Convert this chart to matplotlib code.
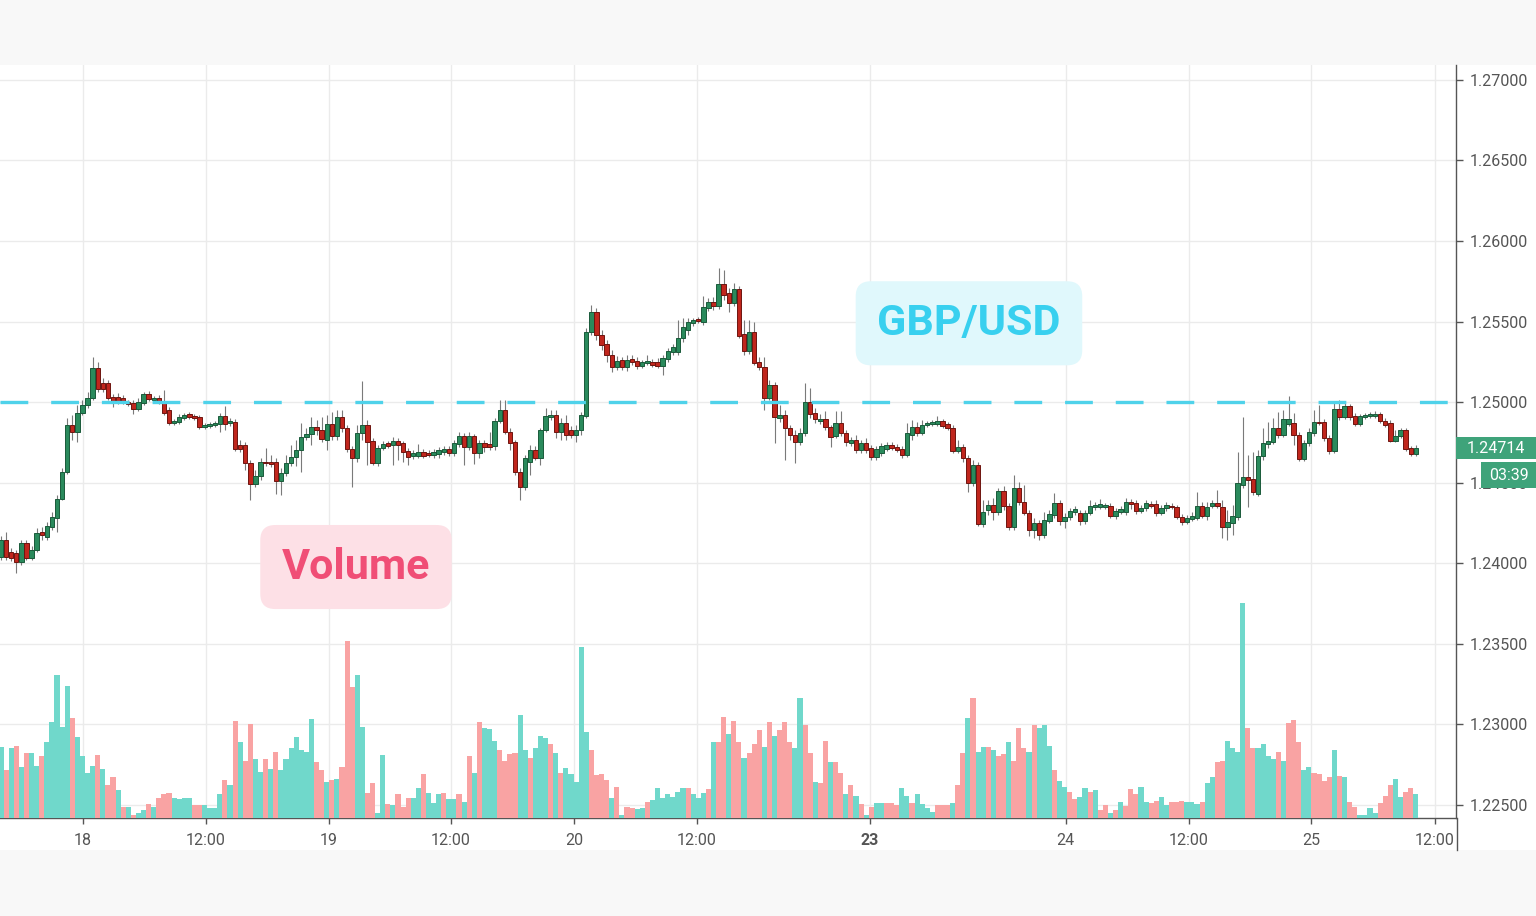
import numpy as np
import matplotlib.pyplot as plt
from matplotlib.patches import Rectangle
from matplotlib.lines import Line2D
from matplotlib.transforms import IdentityTransform

# 30-minute GBP/USD candles
opens = [
    1.24037, 1.24143, 1.24069, 1.24062, 1.24006, 1.24124, 1.24031, 1.24081, 1.24193, 1.24162,
    1.24224, 1.24280, 1.24398, 1.24565, 1.24857, 1.24814, 1.24932, 1.24981, 1.25025, 1.25211,
    1.25118, 1.25118, 1.25031, 1.25031, 1.25025, 1.25000, 1.24994, 1.24957, 1.24994, 1.25050,
    1.25012, 1.25025, 1.25000, 1.24950, 1.24870, 1.24876, 1.24901, 1.24925, 1.24913, 1.24907,
    1.24845, 1.24851, 1.24857, 1.24863, 1.24913, 1.24870, 1.24876, 1.24733, 1.24733, 1.24621,
    1.24491, 1.24540, 1.24627, 1.24627, 1.24627, 1.24509, 1.24559, 1.24621, 1.24658, 1.24702,
    1.24783, 1.24801, 1.24845, 1.24826, 1.24764, 1.24863, 1.24789, 1.24907, 1.24839, 1.24708,
    1.24652, 1.24807, 1.24857, 1.24758, 1.24621, 1.24714, 1.24745, 1.24733, 1.24758, 1.24745,
    1.24696, 1.24665, 1.24665, 1.24690, 1.24683, 1.24671, 1.24677, 1.24690, 1.24708, 1.24683,
    1.24739, 1.24789, 1.24721, 1.24789, 1.24683, 1.24745, 1.24739, 1.24727, 1.24882, 1.24950,
    1.24814, 1.24752, 1.24565, 1.24472, 1.24627, 1.24702, 1.24652, 1.24826, 1.24907, 1.24919,
    1.24814, 1.24870, 1.24826, 1.24795, 1.24826, 1.24913, 1.25435, 1.25559, 1.25416, 1.25360,
    1.25292, 1.25217, 1.25261, 1.25217, 1.25267, 1.25255, 1.25224, 1.25242, 1.25248, 1.25248,
    1.25224, 1.25267, 1.25311, 1.25311, 1.25397, 1.25447, 1.25491, 1.25515, 1.25497, 1.25584,
    1.25621, 1.25596, 1.25733, 1.25677, 1.25615, 1.25702, 1.25422, 1.25317, 1.25435, 1.25248,
    1.25217, 1.25025, 1.25106, 1.24901, 1.24919, 1.24839, 1.24795, 1.24752, 1.24807, 1.25000,
    1.24932, 1.24882, 1.24894, 1.24845, 1.24789, 1.24870, 1.24807, 1.24745, 1.24764, 1.24702,
    1.24745, 1.24714, 1.24658, 1.24683, 1.24708, 1.24733, 1.24721, 1.24708, 1.24671, 1.24795,
    1.24845, 1.24807, 1.24857, 1.24863, 1.24863, 1.24882, 1.24863, 1.24839, 1.24696, 1.24721,
    1.24652, 1.24497, 1.24609, 1.24242, 1.24329, 1.24360, 1.24317, 1.24447, 1.24354, 1.24224,
    1.24466, 1.24379, 1.24311, 1.24205, 1.24249, 1.24174, 1.24261, 1.24298, 1.24373, 1.24261,
    1.24286, 1.24317, 1.24311, 1.24261, 1.24311, 1.24348, 1.24348, 1.24348, 1.24354, 1.24292,
    1.24317, 1.24317, 1.24379, 1.24373, 1.24323, 1.24342, 1.24367, 1.24367, 1.24311, 1.24342,
    1.24354, 1.24348, 1.24286, 1.24255, 1.24274, 1.24280, 1.24354, 1.24292, 1.24354, 1.24373,
    1.24348, 1.24224, 1.24249, 1.24286, 1.24485, 1.24534, 1.24522, 1.24429, 1.24665, 1.24739,
    1.24752, 1.24839, 1.24795, 1.24863, 1.24870, 1.24795, 1.24646, 1.24745, 1.24807, 1.24876,
    1.24876, 1.24776, 1.24696, 1.24957, 1.24907, 1.24975, 1.24913, 1.24863, 1.24907, 1.24913,
    1.24913, 1.24925, 1.24882, 1.24870, 1.24758, 1.24789, 1.24826, 1.24714, 1.24677,
]
highs = [
    1.24168, 1.24193, 1.24093, 1.24081, 1.24143, 1.24143, 1.24106, 1.24218, 1.24224, 1.24255,
    1.24317, 1.24422, 1.24590, 1.24901, 1.24919, 1.24981, 1.25012, 1.25062, 1.25279, 1.25248,
    1.25149, 1.25137, 1.25050, 1.25056, 1.25043, 1.25012, 1.25012, 1.25025, 1.25062, 1.25068,
    1.25037, 1.25043, 1.25075, 1.24969, 1.24894, 1.24925, 1.24932, 1.24938, 1.24925, 1.24919,
    1.24870, 1.24876, 1.24882, 1.24932, 1.24975, 1.24901, 1.24894, 1.24764, 1.24752, 1.24640,
    1.24578, 1.24652, 1.24714, 1.24671, 1.24652, 1.24590, 1.24671, 1.24733, 1.24764, 1.24870,
    1.24839, 1.24907, 1.24888, 1.24907, 1.24919, 1.24938, 1.24950, 1.24950, 1.24857, 1.24727,
    1.24857, 1.25130, 1.24888, 1.24776, 1.24733, 1.24758, 1.24758, 1.24783, 1.24776, 1.24758,
    1.24714, 1.24702, 1.24739, 1.24708, 1.24702, 1.24708, 1.24721, 1.24727, 1.24727, 1.24764,
    1.24814, 1.24807, 1.24814, 1.24801, 1.24764, 1.24764, 1.24814, 1.24901, 1.25012, 1.25012,
    1.24839, 1.24764, 1.24590, 1.24671, 1.24733, 1.24727, 1.24839, 1.24963, 1.24950, 1.24950,
    1.24901, 1.24919, 1.24851, 1.24857, 1.24938, 1.25460, 1.25602, 1.25584, 1.25447, 1.25385,
    1.25323, 1.25286, 1.25279, 1.25292, 1.25292, 1.25279, 1.25261, 1.25292, 1.25267, 1.25273,
    1.25292, 1.25335, 1.25360, 1.25509, 1.25522, 1.25522, 1.25522, 1.25528, 1.25658, 1.25646,
    1.25652, 1.25832, 1.25820, 1.25708, 1.25739, 1.25720, 1.25509, 1.25509, 1.25497, 1.25279,
    1.25279, 1.25137, 1.25124, 1.24981, 1.24950, 1.24857, 1.24826, 1.24839, 1.25118, 1.25087,
    1.24963, 1.24925, 1.24944, 1.24857, 1.24944, 1.24944, 1.24826, 1.24783, 1.24795, 1.24764,
    1.24776, 1.24733, 1.24727, 1.24745, 1.24752, 1.24752, 1.24739, 1.24727, 1.24870, 1.24888,
    1.24876, 1.24888, 1.24882, 1.24888, 1.24913, 1.24894, 1.24876, 1.24857, 1.24764, 1.24739,
    1.24671, 1.24640, 1.24627, 1.24391, 1.24391, 1.24404, 1.24466, 1.24478, 1.24373, 1.24547,
    1.24503, 1.24485, 1.24329, 1.24280, 1.24267, 1.24317, 1.24329, 1.24435, 1.24391, 1.24311,
    1.24342, 1.24354, 1.24329, 1.24329, 1.24391, 1.24379, 1.24398, 1.24373, 1.24373, 1.24342,
    1.24354, 1.24404, 1.24398, 1.24391, 1.24360, 1.24391, 1.24385, 1.24391, 1.24360, 1.24379,
    1.24373, 1.24360, 1.24305, 1.24298, 1.24317, 1.24441, 1.24379, 1.24379, 1.24391, 1.24454,
    1.24391, 1.24329, 1.24360, 1.24690, 1.24907, 1.24671, 1.24690, 1.24702, 1.24839, 1.24876,
    1.24901, 1.24938, 1.24950, 1.25037, 1.24932, 1.24814, 1.24764, 1.24839, 1.24950, 1.24981,
    1.24894, 1.24795, 1.25000, 1.25012, 1.24994, 1.24988, 1.24932, 1.24925, 1.24932, 1.24938,
    1.24944, 1.24938, 1.24901, 1.24888, 1.24826, 1.24839, 1.24839, 1.24727, 1.24733,
]
lows = [
    1.24019, 1.24019, 1.24013, 1.23938, 1.23988, 1.24019, 1.24019, 1.24069, 1.24143, 1.24143,
    1.24205, 1.24193, 1.24391, 1.24553, 1.24764, 1.24752, 1.24919, 1.24963, 1.25012, 1.25062,
    1.25062, 1.25012, 1.24969, 1.24988, 1.24988, 1.24975, 1.24925, 1.24944, 1.24981, 1.25006,
    1.25000, 1.24988, 1.24919, 1.24857, 1.24857, 1.24863, 1.24888, 1.24894, 1.24888, 1.24832,
    1.24832, 1.24839, 1.24845, 1.24814, 1.24826, 1.24851, 1.24696, 1.24690, 1.24578, 1.24391,
    1.24472, 1.24516, 1.24603, 1.24596, 1.24429, 1.24422, 1.24540, 1.24603, 1.24603, 1.24565,
    1.24764, 1.24733, 1.24795, 1.24752, 1.24702, 1.24764, 1.24764, 1.24814, 1.24690, 1.24472,
    1.24627, 1.24764, 1.24609, 1.24609, 1.24603, 1.24702, 1.24714, 1.24609, 1.24640, 1.24627,
    1.24609, 1.24646, 1.24652, 1.24652, 1.24658, 1.24652, 1.24652, 1.24671, 1.24665, 1.24665,
    1.24721, 1.24609, 1.24702, 1.24615, 1.24652, 1.24690, 1.24702, 1.24702, 1.24870, 1.24801,
    1.24702, 1.24547, 1.24391, 1.24454, 1.24547, 1.24640, 1.24609, 1.24814, 1.24888, 1.24776,
    1.24764, 1.24764, 1.24776, 1.24752, 1.24795, 1.24901, 1.25416, 1.25385, 1.25323, 1.25248,
    1.25186, 1.25199, 1.25199, 1.25193, 1.25230, 1.25205, 1.25211, 1.25230, 1.25217, 1.25211,
    1.25168, 1.25248, 1.25292, 1.25292, 1.25373, 1.25416, 1.25472, 1.25491, 1.25478, 1.25565,
    1.25571, 1.25578, 1.25633, 1.25559, 1.25596, 1.25397, 1.25292, 1.25298, 1.25230, 1.25199,
    1.24950, 1.25012, 1.24745, 1.24876, 1.24640, 1.24764, 1.24621, 1.24733, 1.24789, 1.24901,
    1.24870, 1.24863, 1.24826, 1.24721, 1.24776, 1.24789, 1.24727, 1.24727, 1.24683, 1.24683,
    1.24683, 1.24640, 1.24640, 1.24665, 1.24696, 1.24702, 1.24690, 1.24652, 1.24658, 1.24764,
    1.24789, 1.24795, 1.24845, 1.24851, 1.24851, 1.24839, 1.24826, 1.24683, 1.24683, 1.24627,
    1.24441, 1.24478, 1.24230, 1.24224, 1.24298, 1.24267, 1.24298, 1.24329, 1.24205, 1.24205,
    1.24360, 1.24298, 1.24168, 1.24155, 1.24143, 1.24155, 1.24249, 1.24280, 1.24236, 1.24218,
    1.24267, 1.24298, 1.24236, 1.24242, 1.24298, 1.24329, 1.24336, 1.24336, 1.24280, 1.24274,
    1.24305, 1.24298, 1.24336, 1.24305, 1.24311, 1.24323, 1.24342, 1.24292, 1.24298, 1.24323,
    1.24336, 1.24274, 1.24236, 1.24242, 1.24261, 1.24267, 1.24280, 1.24267, 1.24342, 1.24342,
    1.24155, 1.24143, 1.24174, 1.24267, 1.24466, 1.24348, 1.24422, 1.24416, 1.24640, 1.24714,
    1.24739, 1.24776, 1.24783, 1.24851, 1.24733, 1.24634, 1.24634, 1.24727, 1.24789, 1.24857,
    1.24758, 1.24677, 1.24683, 1.24888, 1.24894, 1.24888, 1.24851, 1.24851, 1.24894, 1.24901,
    1.24901, 1.24870, 1.24845, 1.24752, 1.24752, 1.24776, 1.24696, 1.24665, 1.24665,
]
closes = [
    1.24143, 1.24037, 1.24031, 1.24006, 1.24124, 1.24031, 1.24081, 1.24187, 1.24174, 1.24230,
    1.24286, 1.24398, 1.24565, 1.24857, 1.24814, 1.24932, 1.24981, 1.25025, 1.25211, 1.25081,
    1.25081, 1.25025, 1.25000, 1.25000, 1.25000, 1.24988, 1.24957, 1.25000, 1.25050, 1.25019,
    1.25025, 1.25000, 1.24932, 1.24870, 1.24882, 1.24907, 1.24919, 1.24907, 1.24901, 1.24845,
    1.24857, 1.24863, 1.24870, 1.24913, 1.24863, 1.24882, 1.24708, 1.24708, 1.24621, 1.24491,
    1.24540, 1.24627, 1.24621, 1.24615, 1.24509, 1.24559, 1.24621, 1.24658, 1.24702, 1.24783,
    1.24801, 1.24845, 1.24826, 1.24770, 1.24863, 1.24789, 1.24907, 1.24839, 1.24708, 1.24652,
    1.24807, 1.24857, 1.24752, 1.24621, 1.24714, 1.24739, 1.24727, 1.24758, 1.24733, 1.24690,
    1.24658, 1.24683, 1.24690, 1.24665, 1.24671, 1.24690, 1.24702, 1.24708, 1.24683, 1.24745,
    1.24789, 1.24721, 1.24789, 1.24683, 1.24745, 1.24721, 1.24721, 1.24882, 1.24950, 1.24814,
    1.24745, 1.24565, 1.24472, 1.24652, 1.24702, 1.24652, 1.24826, 1.24913, 1.24919, 1.24814,
    1.24870, 1.24795, 1.24795, 1.24826, 1.24919, 1.25435, 1.25559, 1.25416, 1.25354, 1.25292,
    1.25217, 1.25255, 1.25217, 1.25261, 1.25248, 1.25224, 1.25248, 1.25255, 1.25230, 1.25224,
    1.25273, 1.25317, 1.25342, 1.25397, 1.25466, 1.25497, 1.25509, 1.25503, 1.25590, 1.25621,
    1.25596, 1.25733, 1.25665, 1.25615, 1.25702, 1.25410, 1.25317, 1.25435, 1.25242, 1.25217,
    1.25025, 1.25106, 1.24907, 1.24919, 1.24839, 1.24795, 1.24752, 1.24807, 1.25000, 1.24925,
    1.24894, 1.24894, 1.24845, 1.24783, 1.24870, 1.24807, 1.24752, 1.24764, 1.24702, 1.24745,
    1.24702, 1.24658, 1.24708, 1.24727, 1.24733, 1.24714, 1.24702, 1.24671, 1.24807, 1.24845,
    1.24807, 1.24857, 1.24870, 1.24876, 1.24882, 1.24851, 1.24839, 1.24696, 1.24721, 1.24652,
    1.24497, 1.24609, 1.24242, 1.24317, 1.24360, 1.24317, 1.24447, 1.24354, 1.24224, 1.24466,
    1.24379, 1.24311, 1.24205, 1.24249, 1.24174, 1.24267, 1.24305, 1.24373, 1.24261, 1.24286,
    1.24323, 1.24336, 1.24261, 1.24311, 1.24354, 1.24360, 1.24367, 1.24360, 1.24292, 1.24323,
    1.24336, 1.24379, 1.24367, 1.24323, 1.24342, 1.24373, 1.24354, 1.24311, 1.24342, 1.24360,
    1.24348, 1.24286, 1.24255, 1.24280, 1.24292, 1.24354, 1.24292, 1.24348, 1.24373, 1.24354,
    1.24224, 1.24255, 1.24292, 1.24497, 1.24534, 1.24516, 1.24441, 1.24665, 1.24745, 1.24758,
    1.24839, 1.24795, 1.24894, 1.24894, 1.24795, 1.24646, 1.24745, 1.24814, 1.24876, 1.24870,
    1.24776, 1.24696, 1.24957, 1.24907, 1.24975, 1.24907, 1.24863, 1.24913, 1.24919, 1.24925,
    1.24925, 1.24882, 1.24857, 1.24758, 1.24789, 1.24826, 1.24708, 1.24677, 1.24714,
]

volumes = [
    71, 48, 70, 72, 51, 65, 65, 52, 62, 76, 96, 143, 91, 132, 100, 81, 62, 45, 52, 63,
    49, 33, 41, 28, 11, 11, 3, 5, 8, 14, 11, 20, 24, 25, 20, 19, 20, 20, 13, 13,
    13, 10, 10, 24, 38, 33, 97, 76, 57, 94, 59, 46, 59, 49, 66, 48, 59, 70, 81, 68,
    66, 99, 56, 48, 36, 38, 39, 51, 177, 131, 143, 91, 25, 35, 5, 63, 14, 13, 24, 11,
    20, 20, 30, 44, 25, 15, 24, 25, 19, 19, 24, 16, 62, 45, 96, 90, 89, 77,
    68, 57, 64, 65, 103, 68, 60, 70, 82, 80, 74, 65, 45, 50, 44, 36, 171, 86, 68, 43,
    44, 38, 20, 31, 3, 11, 10, 9, 10, 16, 18, 30, 20, 24, 21, 26, 30, 30, 24, 20,
    25, 29, 76, 76, 101, 84, 97, 76, 60, 65, 74, 88, 71, 96, 82, 88, 96, 76, 70, 120,
    93, 65, 36, 35, 77, 56, 56, 45, 24, 33, 22, 14, 3, 11, 15, 15, 15, 15, 13, 30,
    22, 15, 24, 14, 10, 6, 13, 13, 13, 15, 33, 65, 100, 120,
    66, 71, 71, 68, 62, 64, 76, 57, 90, 70, 66, 93, 90, 93, 72, 48, 37, 31, 26, 19,
    21, 30, 26, 28, 8, 13, 5, 8, 16, 12, 29, 24, 31, 16, 15, 17, 21, 13, 16, 16,
    17, 16, 16, 14, 16, 35, 41, 56, 57, 77, 70, 66, 215, 90, 70, 70, 74, 62, 59, 66,
    57, 95, 98, 76, 48, 51, 45, 44, 37, 41, 68, 42, 41, 16, 11, 3, 3, 10, 5, 15,
    22, 33, 39, 21, 26, 30, 24,
]
# g = buying volume, r = selling volume
vol_side = list(
    "grgrgrggrg" "ggggrggggr" "grrgrgrggr" "grrrggggrr" "ggggrgrgrr"
    "ggrgrggggg" "ggrrgrgrrr" "ggrrggrgrr" "rggrgggrgg" "rgrgrggg"
    "rrrrggrggg" "rgrgggggrr" "rrgrgrrggr" "gggggggrgg" "grgrrgrrgr"
    "rrgrgrrrgg" "rrgrrgrrgr" "grgrggrrrg" "grggggrrrg" "rrgr"
    "ggrgrrgrrr" "grgggrggrr" "ggrgrrgrg" "r" "rrggrrggrr"
    "rgggrggrrg" "gggrrggggr" "grrrggrrrr" "grgrrggggr" "rrggrrg"
)

tick_pos = [16.1, 40.3, 64.4, 88.4, 112.6, 136.7, 170.7, 209.2, 233.4, 257.4, 281.7]
tick_labels = ["18", "12:00", "19", "12:00", "20", "12:00", "23", "24", "12:00", "25", "12:00"]
price_ticks = [1.225, 1.230, 1.235, 1.240, 1.245, 1.250, 1.255, 1.260, 1.265, 1.270]
level = 1.25
countdown = "03:39"

plt.rcParams['font.family'] = ['Roboto', 'DejaVu Sans']
plt.rcParams['lines.scale_dashes'] = False

n = min(len(opens), len(highs), len(lows), len(closes))
x = np.arange(n)
o = np.array(opens[:n])
h = np.array(highs[:n])
l = np.array(lows[:n])
c = np.array(closes[:n])
up = c >= o

W, H = 1536, 916
fig = plt.figure(figsize=(W / 100, H / 100), dpi=100, facecolor='#f8f8f8')
# white chart card
fig.patches.append(Rectangle((0, 66 / H), 1, 785 / H, transform=fig.transFigure,
                             facecolor='white', edgecolor='none', zorder=-10))

ax = fig.add_axes([0, 98 / H, 1456 / W, 753 / H])
ax.set_xlim(-0.2, 285.9)
ax.set_ylim(1.22417, 1.27093)

ax.set_xticks(tick_pos)
ax.set_xticklabels(tick_labels)
ax.set_yticks(price_ticks)
ax.set_yticklabels([f"{p:.5f}" for p in price_ticks])
ax.grid(True, color='#ebebeb', lw=1)
ax.set_axisbelow(True)

# candles
ax.vlines(x, l, h, color='#7a7a7a', lw=0.8, zorder=2)
body_low = np.minimum(o, c)
body_h = np.maximum(np.abs(c - o), 0.00005)
ax.bar(x, body_h, 0.86, bottom=body_low,
       color=np.where(up, '#2a8a5c', '#c0261d'),
       edgecolor=np.where(up, '#1a5a3a', '#6e1510'), lw=0.7, zorder=3)

# level line
ax.axhline(level, color='#4fd2ea', lw=2.4, dashes=(20, 16.5), zorder=4)

# volume on its own scale
vax = ax.twinx()
nv = min(len(volumes), len(vol_side))
vcol = ['#70d8cb' if s == 'g' else '#f9a3a3' for s in vol_side[:nv]]
vax.bar(np.arange(nv), volumes[:nv], 1.0, color=vcol, lw=0)
vax.set_ylim(0, max(volumes) * 3.5)
vax.set_yticks([])
for s in vax.spines.values():
    s.set_visible(False)

for side in ['top', 'left']:
    ax.spines[side].set_visible(False)
for side in ['right', 'bottom']:
    ax.spines[side].set_color('#555555')
    ax.spines[side].set_linewidth(1)

ax.yaxis.tick_right()
ax.tick_params(axis='y', direction='out', length=5, width=1, pad=5,
               colors='#555555', labelsize=11.5)
ax.tick_params(axis='x', direction='out', length=4, width=1, pad=7,
               colors='#555555', labelsize=11.5)
ax.get_xticklabels()[6].set_fontweight('bold')

# right axis line runs down to the card edge
fig.add_artist(Line2D([1456.5 / W] * 2, [66 / H, 98 / H], transform=fig.transFigure,
                      color='#555555', lw=1))

# annotations
ax.text(0.6655, 0.657, 'GBP/USD', transform=ax.transAxes, ha='center', va='center',
        fontsize=31, fontweight='bold', color='#38d0ef', zorder=6,
        bbox=dict(boxstyle='round,pad=0.5,rounding_size=0.35', fc='#e0f8fc', ec='none'))
ax.text(0.2445, 0.3333, 'Volume', transform=ax.transAxes, ha='center', va='center',
        fontsize=31, fontweight='bold', color='#f04e76', zorder=6,
        bbox=dict(boxstyle='round,pad=0.5,rounding_size=0.35', fc='#fde0e6', ec='none'))

# last price and countdown labels
yd = ax.transData.transform((0, c[-1]))[1]
idt = IdentityTransform()
fig.add_artist(Rectangle((1456, yd - 11), 80, 22, transform=idt,
                         facecolor='#3fa37a', edgecolor='none', zorder=5))
fig.add_artist(Rectangle((1481, yd - 40), 55, 26, transform=idt,
                         facecolor='#3fa37a', edgecolor='none', zorder=5))
fig.text(1496, yd, f"{c[-1]:.5f}", transform=idt, ha='center', va='center',
         color='white', fontsize=11.5, zorder=6)
fig.text(1508.5, yd - 27, countdown, transform=idt, ha='center', va='center',
         color='white', fontsize=11.5, zorder=6)

fig.savefig('out.png', dpi=100, facecolor=fig.get_facecolor())
